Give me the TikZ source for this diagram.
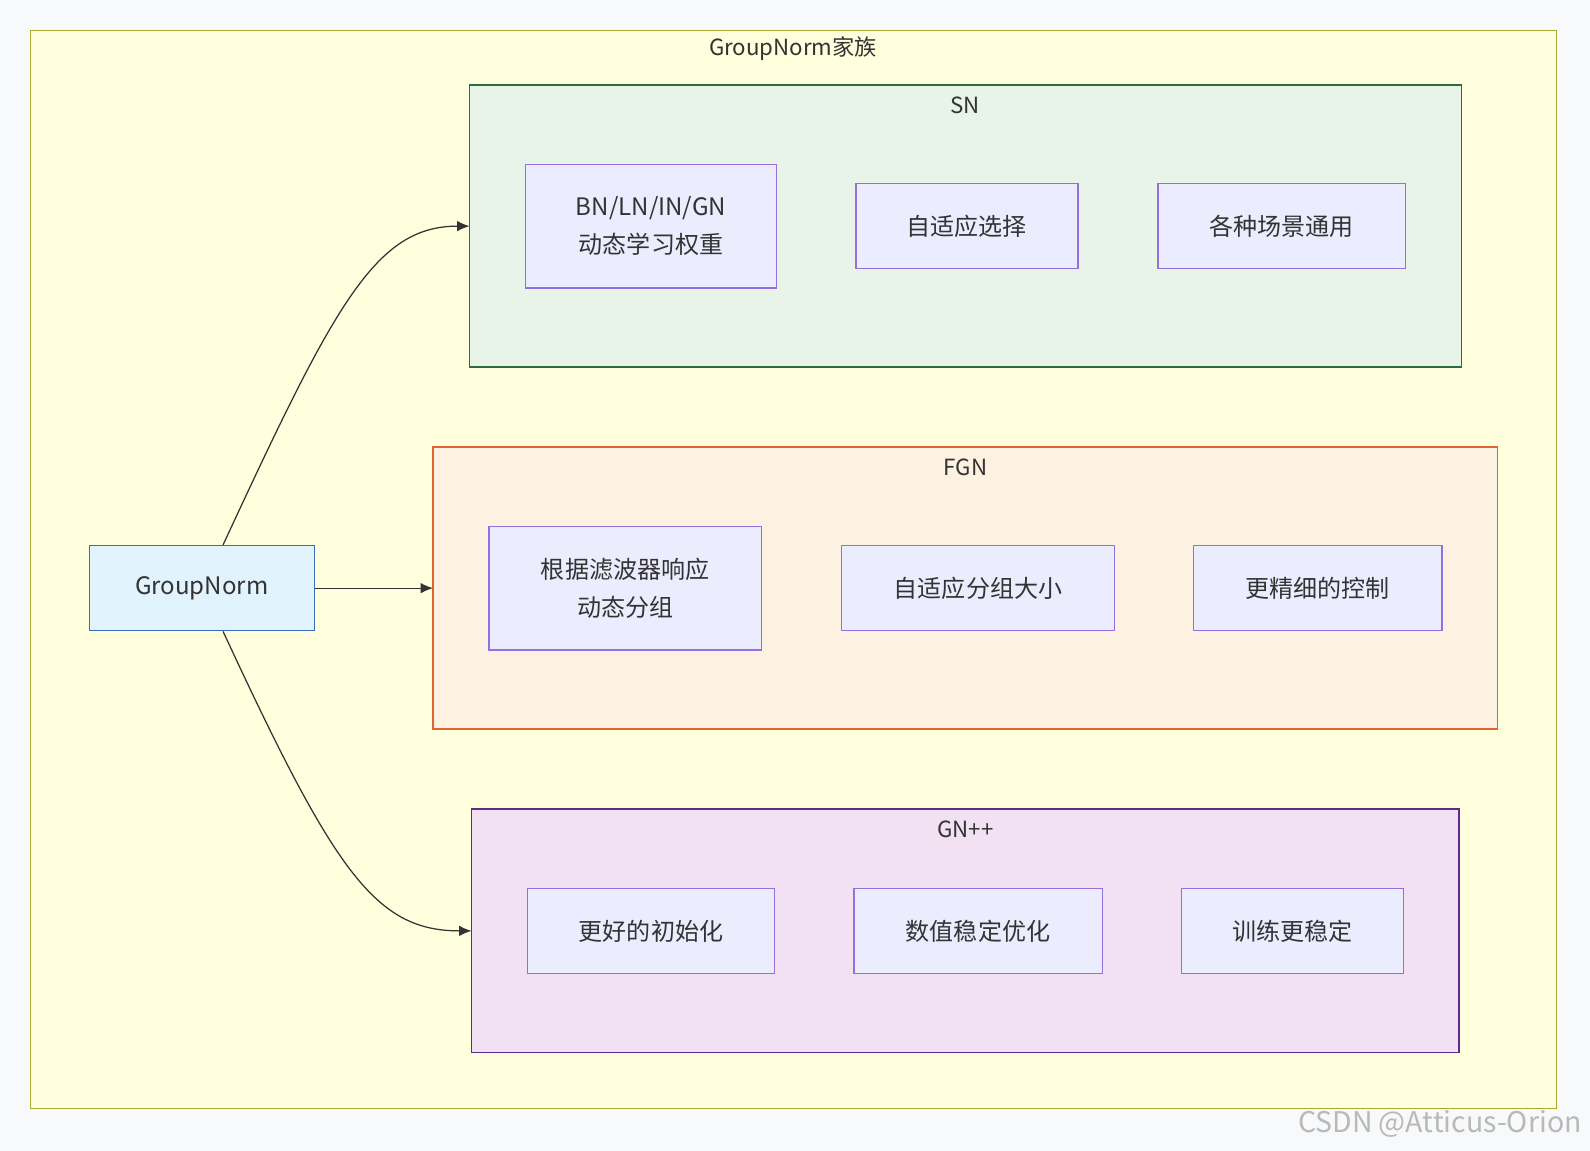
\documentclass[tikz,border=0pt]{standalone}
\usepackage{fontspec}
\setmainfont{Noto Sans CJK SC}
\usetikzlibrary{arrows.meta}
\definecolor{pagebg}{HTML}{F8F9FB}
\definecolor{familyfill}{HTML}{FFFFDE}
\definecolor{familyline}{HTML}{AAAA33}
\definecolor{snfill}{HTML}{E8F4E8}
\definecolor{snline}{HTML}{2E6B3E}
\definecolor{fgnfill}{HTML}{FDF1E2}
\definecolor{fgnline}{HTML}{E2652F}
\definecolor{gnfill}{HTML}{F1E1F2}
\definecolor{gnline}{HTML}{5E2A8C}
\definecolor{itemfill}{HTML}{ECECFF}
\definecolor{itemline}{HTML}{9370DB}
\definecolor{rootfill}{HTML}{E1F3FD}
\definecolor{rootline}{HTML}{3A6DB5}
\definecolor{textgray}{HTML}{333333}

\tikzset{
  px/.style={x=0.02cm, y=-0.02cm},
  item/.style={draw=itemline, fill=itemfill, line width=0.8pt, text=textgray,
    font=\fontsize{13.5}{21}\selectfont, align=center, inner sep=0pt},
  title/.style={text=textgray, font=\fontsize{12.5}{15}\selectfont},
  link/.style={draw=textgray, line width=0.7pt, -{Latex[length=7pt,width=6pt]}}
}

\begin{document}
\begin{tikzpicture}[px]
    \fill[pagebg] (0,0) rectangle (1568,1135);
    \useasboundingbox (0,0) rectangle (1568,1135);

    % family frame
    \draw[familyline, fill=familyfill, line width=0.8pt] (30,30) rectangle (1535,1093);
    \node[title] (famtitle) at (782,48) {GroupNorm家族};

    % groups
    \draw[snline, fill=snfill, line width=0.8pt] (463,84) rectangle (1441,362);
    \node[title] (sntitle) at (952,104) {SN};
    \draw[fgnline, fill=fgnfill, line width=0.8pt] (427,441) rectangle (1477,719);
    \node[title] (fgntitle) at (952,461) {FGN};
    \draw[gnline, fill=gnfill, line width=0.8pt] (465,798) rectangle (1439,1038);
    \node[title] (gntitle) at (952,818) {GN++};
    \coordinate (snin) at (463,223);
    \coordinate (fgnin) at (427,580);
    \coordinate (gnin) at (465,918);

    % SN items
    \node[item, minimum width=4.96cm, minimum height=2.44cm] (snA) at (642,223) {BN/LN/IN/GN\\动态学习权重};
    \node[item, minimum width=4.38cm, minimum height=1.68cm] (snB) at (953.5,223) {自适应选择};
    \node[item, minimum width=4.88cm, minimum height=1.68cm] (snC) at (1264,223) {各种场景通用};

    % FGN items
    \node[item, minimum width=5.38cm, minimum height=2.44cm] (fgnA) at (616.5,580) {根据滤波器响应\\动态分组};
    \node[item, minimum width=5.38cm, minimum height=1.68cm] (fgnB) at (964.5,580) {自适应分组大小};
    \node[item, minimum width=4.90cm, minimum height=1.68cm] (fgnC) at (1299.5,580) {更精细的控制};

    % GN++ items
    \node[item, minimum width=4.88cm, minimum height=1.68cm] (gnA) at (642,918) {更好的初始化};
    \node[item, minimum width=4.90cm, minimum height=1.68cm] (gnB) at (964.5,918) {数值稳定优化};
    \node[item, minimum width=4.38cm, minimum height=1.68cm] (gnC) at (1274.5,918) {训练更稳定};

    % root
    \node[item, draw=rootline, fill=rootfill, minimum width=4.44cm, minimum height=1.68cm] (root) at (199,580) {GroupNorm};

    % links
    \draw[link] ([xshift=0.42cm]root.north) .. controls (330,300) and (370,223) .. (snin);
    \draw[link] (root.east) -- (fgnin);
    \draw[link] ([xshift=0.42cm]root.south) .. controls (330,860) and (370,918) .. (gnin);

    \node[text=gray!55, font=\fontsize{16}{18}\selectfont, anchor=east] (mark) at (1566,1108) {CSDN @Atticus-Orion};
\end{tikzpicture}
\end{document}
